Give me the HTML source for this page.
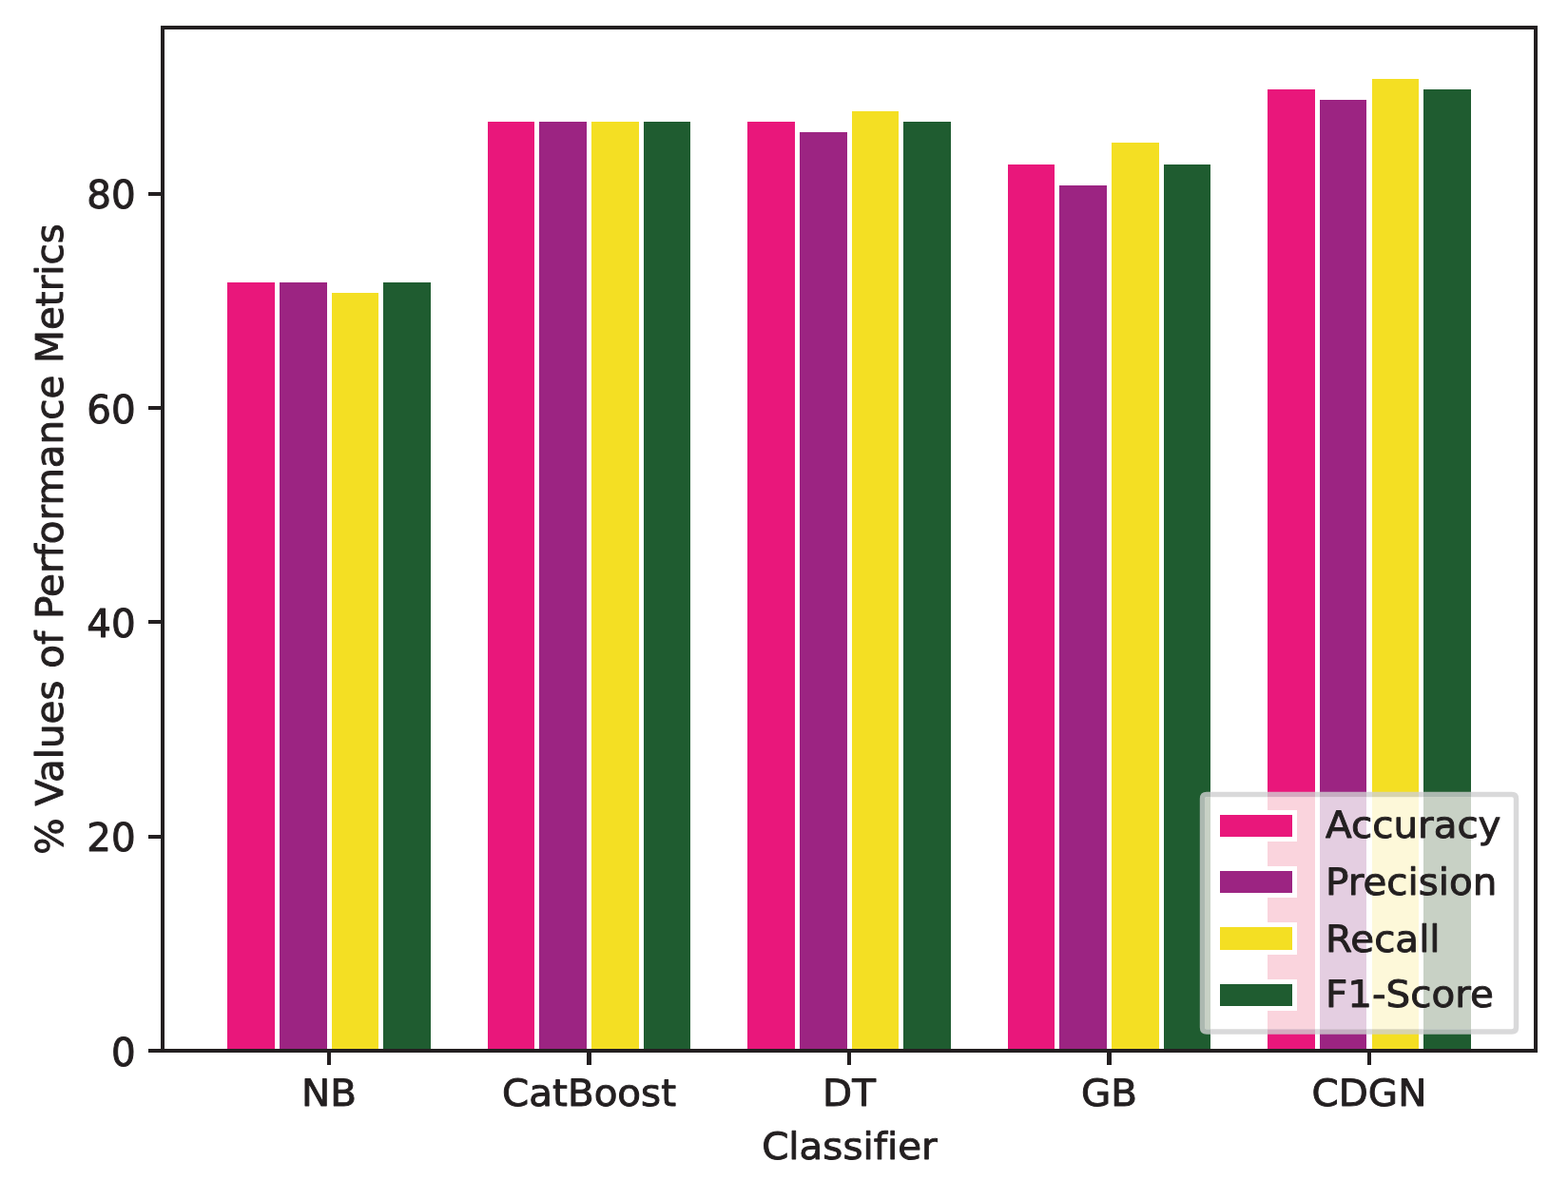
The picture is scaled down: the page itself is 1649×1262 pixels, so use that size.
<!DOCTYPE html>
<html lang="en">
<head>
<meta charset="utf-8">
<title>Classifier Performance Metrics</title>
<style>
html,body{margin:0;padding:0;background:#ffffff;}
body{width:1649px;height:1262px;overflow:hidden;}
svg{display:block;}
</style>
</head>
<body>
<svg width="1649" height="1262" viewBox="0 0 1649 1262" font-family="'DejaVu Sans', 'Liberation Sans', sans-serif" font-size="40.43px" fill="#231f20" style="font-variant-ligatures:none;text-rendering:geometricPrecision">
<rect x="0" y="0" width="1649" height="1262" fill="#ffffff"/>
<g fill="#e9177b">
<rect x="239" y="297" width="50" height="808"/>
<rect x="513" y="128" width="49" height="977"/>
<rect x="786" y="128" width="50" height="977"/>
<rect x="1060" y="173" width="49" height="932"/>
<rect x="1333" y="94" width="50" height="1011"/>
</g>
<g fill="#9c2482">
<rect x="294" y="297" width="50" height="808"/>
<rect x="567" y="128" width="50" height="977"/>
<rect x="841" y="139" width="50" height="966"/>
<rect x="1114" y="195" width="50" height="910"/>
<rect x="1388" y="105" width="49" height="1000"/>
</g>
<g fill="#f4df23">
<rect x="349" y="308" width="49" height="797"/>
<rect x="622" y="128" width="50" height="977"/>
<rect x="896" y="117" width="49" height="988"/>
<rect x="1169" y="150" width="50" height="955"/>
<rect x="1443" y="83" width="49" height="1022"/>
</g>
<g fill="#1f5c30">
<rect x="403" y="297" width="50" height="808"/>
<rect x="677" y="128" width="49" height="977"/>
<rect x="950" y="128" width="50" height="977"/>
<rect x="1224" y="173" width="49" height="932"/>
<rect x="1497" y="94" width="50" height="1011"/>
</g>
<g fill="#231f20">
<rect x="344" y="1105" width="4" height="15"/>
<rect x="617" y="1105" width="5" height="15"/>
<rect x="891" y="1105" width="4" height="15"/>
<rect x="1164" y="1105" width="5" height="15"/>
<rect x="1438" y="1105" width="4" height="15"/>
<rect x="156" y="1103" width="15" height="4"/>
<rect x="156" y="878" width="15" height="4"/>
<rect x="156" y="652" width="15" height="4"/>
<rect x="156" y="427" width="15" height="4"/>
<rect x="156" y="202" width="15" height="4"/>
</g>
<rect x="171.0" y="29.0" width="1444.0" height="1076.0" fill="none" stroke="#231f20" stroke-width="4"/>
<text transform="translate(346.03,1163.30) scale(1,0.966)" text-anchor="middle" stroke="#231f20" stroke-width="0.95" stroke-linejoin="round">NB</text>
<text transform="translate(619.52,1163.30) scale(1,0.966)" text-anchor="middle" stroke="#231f20" stroke-width="0.95" stroke-linejoin="round">CatBoost</text>
<text transform="translate(893.00,1163.30) scale(1,0.966)" text-anchor="middle" stroke="#231f20" stroke-width="0.95" stroke-linejoin="round">DT</text>
<text transform="translate(1166.48,1163.30) scale(1,0.966)" text-anchor="middle" stroke="#231f20" stroke-width="0.95" stroke-linejoin="round">GB</text>
<text transform="translate(1439.97,1163.30) scale(1,0.966)" text-anchor="middle" stroke="#231f20" stroke-width="0.95" stroke-linejoin="round">CDGN</text>
<text transform="translate(142.80,1121.10) scale(1,1.02)" text-anchor="end" stroke="#231f20" stroke-width="0.95" stroke-linejoin="round">0</text>
<text transform="translate(142.80,895.10) scale(1,1.02)" text-anchor="end" stroke="#231f20" stroke-width="0.95" stroke-linejoin="round">20</text>
<text transform="translate(142.80,670.10) scale(1,1.02)" text-anchor="end" stroke="#231f20" stroke-width="0.95" stroke-linejoin="round">40</text>
<text transform="translate(142.80,445.10) scale(1,1.02)" text-anchor="end" stroke="#231f20" stroke-width="0.95" stroke-linejoin="round">60</text>
<text transform="translate(142.80,219.10) scale(1,1.02)" text-anchor="end" stroke="#231f20" stroke-width="0.95" stroke-linejoin="round">80</text>
<text transform="translate(893.40,1218.90) scale(1,0.966)" text-anchor="middle" stroke="#231f20" stroke-width="0.95" stroke-linejoin="round">Classifier</text>
<text transform="translate(66.30,567.00) rotate(-90) scale(1,0.98)" text-anchor="middle" stroke="#231f20" stroke-width="0.95" stroke-linejoin="round">% Values of Performance Metrics</text>
<clipPath id="lg"><path d="M1269.00 838.00L1590.00 838.00Q1592.00 838.00 1592.00 840.00L1592.00 1080.50Q1592.00 1082.50 1590.00 1082.50L1269.00 1082.50Q1267.00 1082.50 1267.00 1080.50L1267.00 840.00Q1267.00 838.00 1269.00 838.00Z"/></clipPath>
<g clip-path="url(#lg)">
<rect x="1264.5" y="835.5" width="330.0" height="249.5" fill="#ffffff"/>
<rect x="1060" y="173" width="49" height="932" fill="#fad4dd"/>
<rect x="1333" y="94" width="50" height="1011" fill="#fad4dd"/>
<rect x="1114" y="195" width="50" height="910" fill="#e4cee1"/>
<rect x="1388" y="105" width="49" height="1000" fill="#e4cee1"/>
<rect x="1169" y="150" width="50" height="955" fill="#fdf8d9"/>
<rect x="1443" y="83" width="49" height="1022" fill="#fdf8d9"/>
<rect x="1224" y="173" width="49" height="932" fill="#c8d1c5"/>
<rect x="1497" y="94" width="50" height="1011" fill="#c8d1c5"/>
</g>
<path d="M1269.00 835.50L1590.00 835.50Q1594.50 835.50 1594.50 840.00L1594.50 1080.50Q1594.50 1085.00 1590.00 1085.00L1269.00 1085.00Q1264.50 1085.00 1264.50 1080.50L1264.50 840.00Q1264.50 835.50 1269.00 835.50Z" fill="none" stroke="#cfcfd1" stroke-opacity="0.8" stroke-width="5.4" stroke-linejoin="round"/>
<rect x="1278" y="852" width="86" height="33" fill="#ffffff"/>
<rect x="1283" y="857" width="76" height="23" fill="#e9177b"/>
<text transform="translate(1394.00,881.30) scale(1,0.966)" text-anchor="start" stroke="#231f20" stroke-width="0.95" stroke-linejoin="round">Accuracy</text>
<rect x="1278" y="911" width="86" height="33" fill="#ffffff"/>
<rect x="1283" y="916" width="76" height="23" fill="#9c2482"/>
<text transform="translate(1394.00,941.30) scale(1,0.966)" text-anchor="start" stroke="#231f20" stroke-width="0.95" stroke-linejoin="round">Precision</text>
<rect x="1278" y="970" width="86" height="34" fill="#ffffff"/>
<rect x="1283" y="975" width="76" height="24" fill="#f4df23"/>
<text transform="translate(1394.00,1000.50) scale(1,0.966)" text-anchor="start" stroke="#231f20" stroke-width="0.95" stroke-linejoin="round">Recall</text>
<rect x="1278" y="1030" width="86" height="33" fill="#ffffff"/>
<rect x="1283" y="1035" width="76" height="23" fill="#1f5c30"/>
<text transform="translate(1394.00,1059.40) scale(1,0.966)" text-anchor="start" stroke="#231f20" stroke-width="0.95" stroke-linejoin="round">F1-Score</text>
</svg>
</body>
</html>
